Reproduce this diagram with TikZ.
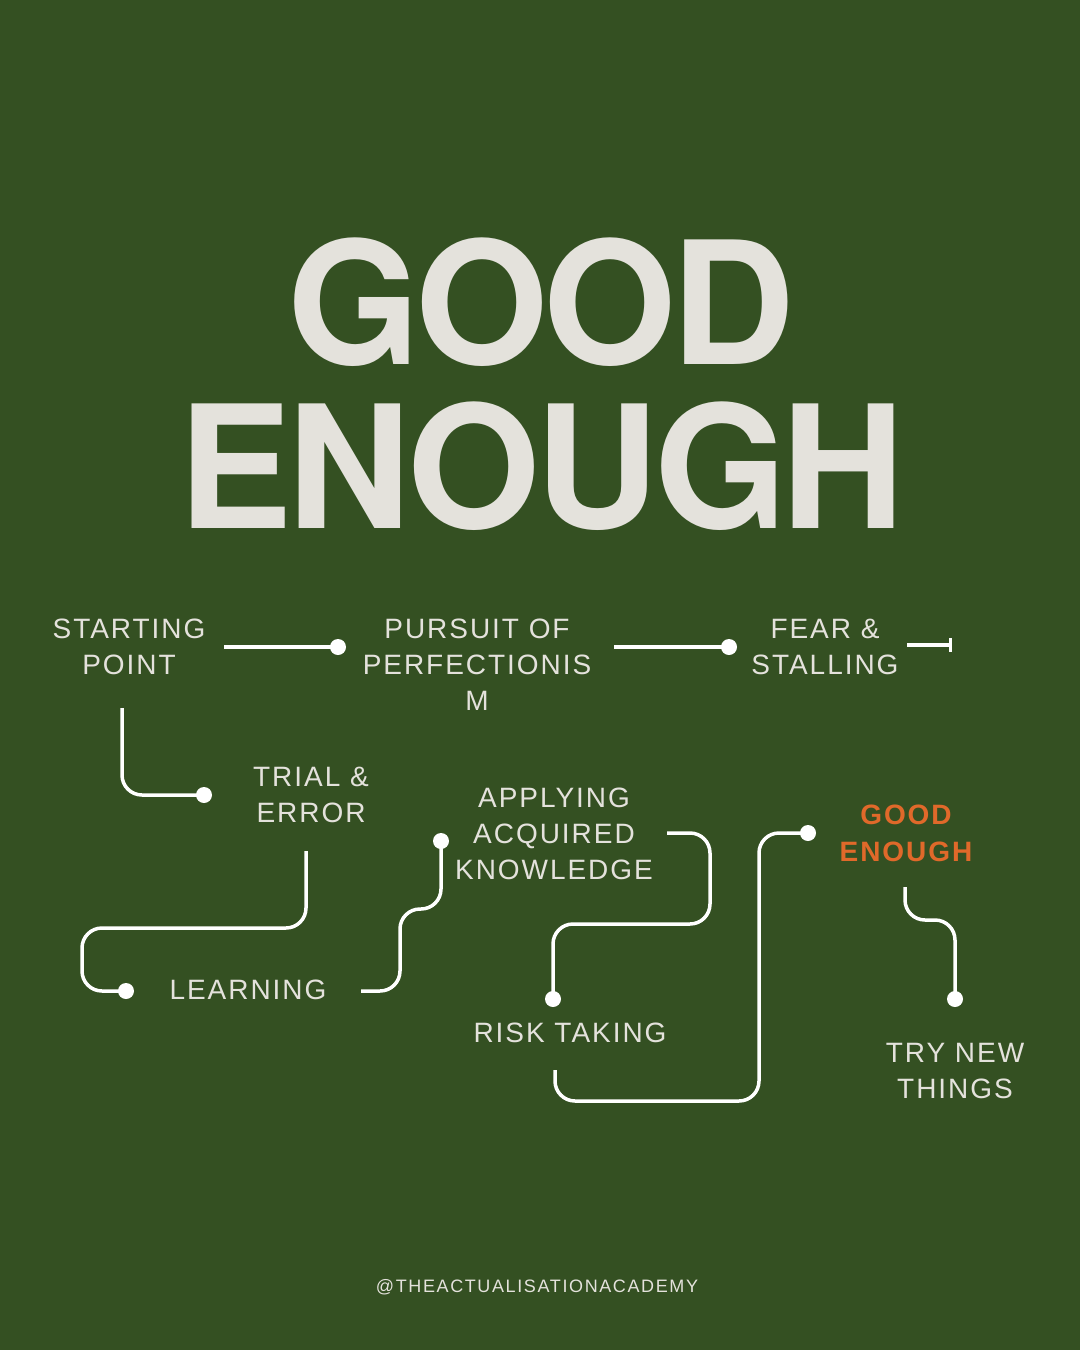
\documentclass[tikz,border=0pt]{standalone}
\usepackage{fontspec}
\usetikzlibrary{arrows.meta}
\newfontfamily\titlefont[LetterSpace=-3]{TeX Gyre Heros}
\newfontfamily\labelfont[LetterSpace=7]{Liberation Sans}
\newfontfamily\handlefont[LetterSpace=9]{Liberation Sans}
\definecolor{forest}{HTML}{345022}
\definecolor{chalk}{HTML}{E4E2DC}
\definecolor{ember}{HTML}{E0692A}
\tikzset{
  stage/.style={text=chalk, align=center, anchor=base, inner sep=0pt,
    font=\labelfont\fontsize{28}{36}\selectfont},
  headline/.style={text=chalk, anchor=base, inner sep=0pt,
    font=\titlefont\bfseries\fontsize{171}{164}\selectfont},
  link/.style={draw=white, line width=3.5pt, rounded corners=20pt},
  dot/.style={fill=white}
}

\begin{document}
\begin{tikzpicture}[x=1pt, y=-1pt]
\fill[forest] (0,0) rectangle (1080,1350);
\useasboundingbox (0,0) rectangle (1080,1350);

\node[headline] (good1) at (541,364) {GOOD};
\node[headline] (good2) at (542,528) {ENOUGH};

\node[stage] (start) at (129,674) {STARTING\\POINT};
\node[stage] (pursuit) at (477,710) {PURSUIT OF\\PERFECTIONIS\\M};
\node[stage] (fear) at (825,674) {FEAR \&\\STALLING};
\node[stage] (trial) at (311,822) {TRIAL \&\\ERROR};
\node[stage] (apply) at (554,879) {APPLYING\\ACQUIRED\\KNOWLEDGE};
\node[stage, text=ember, font=\labelfont\bfseries\fontsize{28}{37}\selectfont] (enough) at (906,861) {GOOD\\ENOUGH};
\node[stage] (learn) at (248,999) {LEARNING};
\node[stage] (risk) at (570,1042) {RISK TAKING};
\node[stage] (try) at (955,1098) {TRY NEW\\THINGS};
\node[stage, font=\handlefont\fontsize{18}{22}\selectfont] (handle) at (537,1292) {@THEACTUALISATIONACADEMY};

\coordinate (start-out) at (224,647);
\coordinate (start-down) at (122,708);
\coordinate (pursuit-in) at (338,647);
\coordinate (pursuit-out) at (614,647);
\coordinate (fear-in) at (729,647);
\coordinate (fear-out) at (907,645);
\coordinate (fear-end) at (952,645);
\coordinate (trial-in) at (204,795);
\coordinate (trial-out) at (306,851);
\coordinate (learn-in) at (126,991);
\coordinate (learn-out) at (361,991);
\coordinate (apply-in) at (441,841);
\coordinate (apply-out) at (667,833);
\coordinate (risk-in) at (553,999);
\coordinate (risk-out) at (555,1070);
\coordinate (enough-in) at (808,833);
\coordinate (enough-out) at (905,887);
\coordinate (try-in) at (955,999);

\draw[link] (start-out) -- (pursuit-in);
\draw[link] (pursuit-out) -- (fear-in);
\draw[link, -{Bar[width=14pt]}] (fear-out) -- (fear-end);
\draw[link] (start-down) |- (trial-in);
\draw[link] (trial-out) -- (306,928) -- (82,928) -- (82,991) -- (learn-in);
\draw[link] (learn-out) -- (400,991) -- (400,909) -- (441,909) -- (apply-in);
\draw[link] (apply-out) -- (710,833) -- (710,924) -- (553,924) -- (risk-in);
\draw[link] (risk-out) -- (555,1101) -- (759,1101) -- (759,833) -- (enough-in);
\draw[link] (enough-out) -- (905,920) -- (955,920) -- (try-in);

\foreach \p in {pursuit-in, fear-in, trial-in, learn-in, apply-in, risk-in, enough-in, try-in}
  \fill[dot] (\p) circle[radius=8pt];
\end{tikzpicture}
\end{document}
